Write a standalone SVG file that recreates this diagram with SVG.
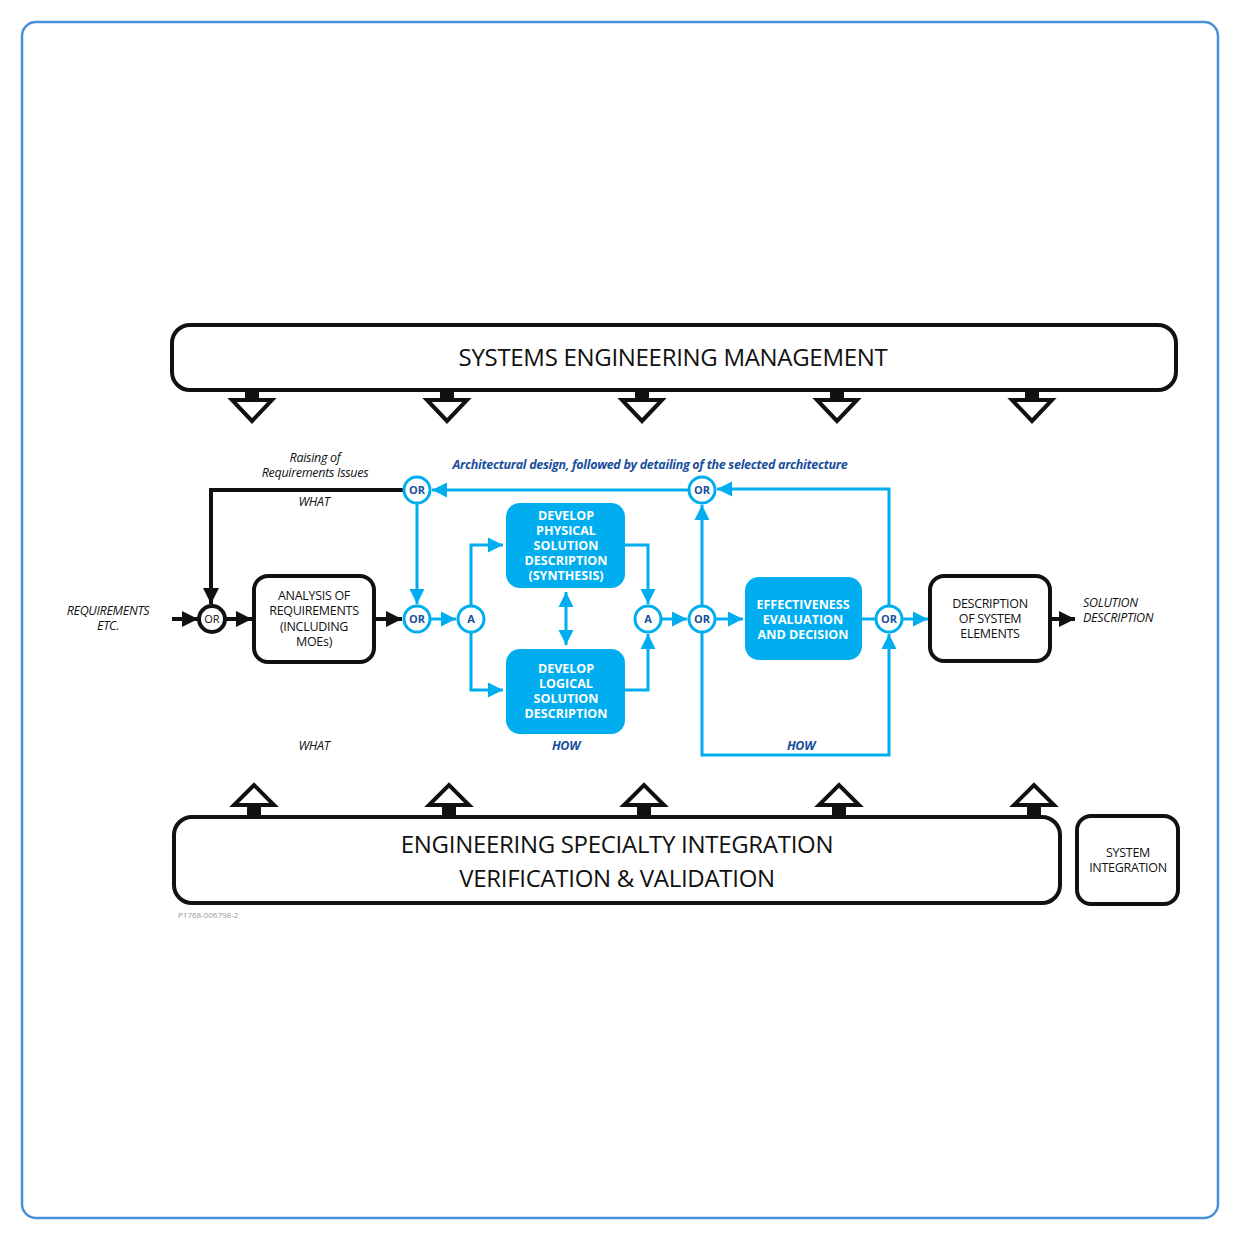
<svg xmlns="http://www.w3.org/2000/svg" width="1240" height="1240" viewBox="0 0 1240 1240">
<style>
.t{font-family:"Open Sans","Liberation Sans",Arial,sans-serif;fill:#111}
.big{font-size:24px;text-anchor:middle;letter-spacing:-0.3px}
.box{fill:#fff;stroke:#111;stroke-width:4}
.bbox{fill:#00aeef;stroke:none}
.bt{font-family:"Open Sans","Liberation Sans",sans-serif;font-weight:bold;fill:#fff;font-size:12.5px;text-anchor:middle}
.nt{font-size:12.5px;text-anchor:middle;letter-spacing:-0.3px}
.it{font-style:italic;font-size:12.5px;letter-spacing:-0.3px}
.bl{fill:none;stroke:#00aeef;stroke-width:3}
.kl{fill:none;stroke:#111;stroke-width:4}
.oc{fill:#fff;stroke:#00aeef;stroke-width:3}
.ot{font-family:"Open Sans","Liberation Sans",sans-serif;font-weight:bold;font-size:11px;fill:#1a4f9c;text-anchor:middle}
.tri{fill:#fff;stroke:#111;stroke-width:4;stroke-linejoin:miter}
</style>
<defs>
<marker id="ab" viewBox="0 0 10 10" refX="10" refY="5" markerWidth="15" markerHeight="16" orient="auto-start-reverse" markerUnits="userSpaceOnUse"><path d="M0,0L10,5L0,10z" fill="#00aeef"/></marker>
<marker id="ak" viewBox="0 0 10 10" refX="10" refY="5" markerWidth="4" markerHeight="4.5" orient="auto" ><path d="M0,0L10,5L0,10z" fill="#111"/></marker>
</defs>
<rect x="22" y="22" width="1196" height="1196" rx="14" fill="#fff" stroke="#4a90d9" stroke-width="2.5"/>

<g id="sem"><rect class="box" x="172" y="325" width="1004" height="65" rx="18"/>
<text class="t big" x="673" y="366">SYSTEMS ENGINEERING MANAGEMENT</text>
<g fill="#111"><rect x="245" y="390" width="14" height="10"/><rect x="440" y="390" width="14" height="10"/><rect x="635" y="390" width="14" height="10"/><rect x="830" y="390" width="14" height="10"/><rect x="1025" y="390" width="14" height="10"/></g>
<path class="tri" d="M232,400H272L252,421Z M427,400H467L447,421Z M622,400H662L642,421Z M817,400H857L837,421Z M1012,400H1052L1032,421Z"/>
</g>

<g id="esi"><rect class="box" x="174" y="817" width="886" height="86" rx="18"/>
<text class="t big" x="617" y="853">ENGINEERING SPECIALTY INTEGRATION</text>
<text class="t big" x="617" y="887">VERIFICATION &amp; VALIDATION</text>
<g fill="#111"><rect x="247" y="805" width="14" height="12"/><rect x="442" y="805" width="14" height="12"/><rect x="637" y="805" width="14" height="12"/><rect x="832" y="805" width="14" height="12"/><rect x="1027" y="805" width="14" height="12"/></g>
<path class="tri" d="M234,805H274L254,785Z M429,805H469L449,785Z M624,805H664L644,785Z M819,805H859L839,785Z M1014,805H1054L1034,785Z"/>
</g>

<g id="sysint"><rect class="box" x="1077" y="816" width="101" height="88" rx="14"/>
<text class="t nt" x="1128" y="857">SYSTEM</text><text class="t nt" x="1128" y="872">INTEGRATION</text></g>

<g id="connectors">
<path class="kl" d="M172,619H198" marker-end="url(#ak)"/>
<path class="kl" d="M225,619H252" marker-end="url(#ak)"/>
<path class="kl" d="M374,619H402" marker-end="url(#ak)"/>
<path class="kl" d="M404,490H211V604" marker-end="url(#ak)"/>
<path class="kl" d="M1050,619H1075" marker-end="url(#ak)"/>
<path class="bl" d="M417,503V604" marker-end="url(#ab)"/>
<path class="bl" d="M430,619H456" marker-end="url(#ab)"/>
<path class="bl" d="M471,606V545H503" marker-end="url(#ab)"/>
<path class="bl" d="M471,632V690H503" marker-end="url(#ab)"/>
<path class="bl" d="M566,592V645" marker-start="url(#ab)" marker-end="url(#ab)"/>
<path class="bl" d="M625,545H648V604" marker-end="url(#ab)"/>
<path class="bl" d="M625,690H648V634" marker-end="url(#ab)"/>
<path class="bl" d="M661,619H687" marker-end="url(#ab)"/>
<path class="bl" d="M715,619H743" marker-end="url(#ab)"/>
<path class="bl" d="M702,606V505" marker-end="url(#ab)"/>
<path class="bl" d="M702,632V755H889V634" marker-end="url(#ab)"/>
<path class="bl" d="M862,619H876"/>
<path class="bl" d="M902,619H928" marker-end="url(#ab)"/>
<path class="bl" d="M889,606V489H717" marker-end="url(#ab)"/>
<path class="bl" d="M689,490H432" marker-end="url(#ab)"/>
</g>

<g id="or1"><circle cx="212" cy="619" r="13" fill="#fff" stroke="#111" stroke-width="4"/><text class="t" x="212" y="623" font-size="11" text-anchor="middle">OR</text></g>
<g id="analysis"><rect class="box" x="254" y="576" width="120" height="86" rx="14"/>
<text class="t nt" x="314" y="600">ANALYSIS OF</text><text class="t nt" x="314" y="615">REQUIREMENTS</text><text class="t nt" x="314" y="631">(INCLUDING</text><text class="t nt" x="314" y="646">MOEs)</text></g>
<g id="or2"><circle class="oc" cx="417" cy="619" r="13"/><text class="ot" x="417" y="623">OR</text></g>
<g id="or3"><circle class="oc" cx="417" cy="490" r="13"/><text class="ot" x="417" y="494">OR</text></g>
<g id="a1"><circle class="oc" cx="471" cy="619" r="13"/><text class="ot" x="471" y="623">A</text></g>
<g id="phys"><rect class="bbox" x="506" y="503" width="119" height="85" rx="14"/>
<text class="bt" x="566" y="520">DEVELOP</text><text class="bt" x="566" y="535">PHYSICAL</text><text class="bt" x="566" y="550">SOLUTION</text><text class="bt" x="566" y="565">DESCRIPTION</text><text class="bt" x="566" y="580">(SYNTHESIS)</text></g>
<g id="logi"><rect class="bbox" x="506" y="649" width="119" height="85" rx="14"/>
<text class="bt" x="566" y="673">DEVELOP</text><text class="bt" x="566" y="688">LOGICAL</text><text class="bt" x="566" y="703">SOLUTION</text><text class="bt" x="566" y="718">DESCRIPTION</text></g>
<g id="a2"><circle class="oc" cx="648" cy="619" r="13"/><text class="ot" x="648" y="623">A</text></g>
<g id="or4"><circle class="oc" cx="702" cy="619" r="13"/><text class="ot" x="702" y="623">OR</text></g>
<g id="or5"><circle class="oc" cx="702" cy="490" r="13"/><text class="ot" x="702" y="494">OR</text></g>
<g id="eff"><rect class="bbox" x="745" y="577" width="117" height="83" rx="14"/>
<text class="bt" x="803" y="609">EFFECTIVENESS</text><text class="bt" x="803" y="624">EVALUATION</text><text class="bt" x="803" y="639">AND DECISION</text></g>
<g id="or6"><circle class="oc" cx="889" cy="619" r="13"/><text class="ot" x="889" y="623">OR</text></g>
<g id="desc"><rect class="box" x="930" y="576" width="120" height="85" rx="14"/>
<text class="t nt" x="990" y="608">DESCRIPTION</text><text class="t nt" x="990" y="623">OF SYSTEM</text><text class="t nt" x="990" y="638">ELEMENTS</text></g>

<g id="labels">
<text class="t it" x="108" y="615" text-anchor="middle">REQUIREMENTS</text>
<text class="t it" x="108" y="630" text-anchor="middle">ETC.</text>
<text class="t it" x="1083" y="607">SOLUTION</text>
<text class="t it" x="1083" y="622">DESCRIPTION</text>
<text class="t it" x="315" y="462" text-anchor="middle">Raising of</text>
<text class="t it" x="315" y="477" text-anchor="middle">Requirements Issues</text>
<text class="t it" x="314" y="506" text-anchor="middle">WHAT</text>
<text class="t it" x="314" y="750" text-anchor="middle">WHAT</text>
<text class="t it" x="566" y="750" text-anchor="middle" style="fill:#1a4f9c;font-weight:bold">HOW</text>
<text class="t it" x="801" y="750" text-anchor="middle" style="fill:#1a4f9c;font-weight:bold">HOW</text>
<text class="t it" x="650" y="469" text-anchor="middle" style="fill:#1a4f9c;font-weight:bold">Architectural design, followed by detailing of the selected architecture</text>
<text class="t" x="178" y="918" font-size="8" style="fill:#999">P1768-006798-2</text>
</g>
</svg>
